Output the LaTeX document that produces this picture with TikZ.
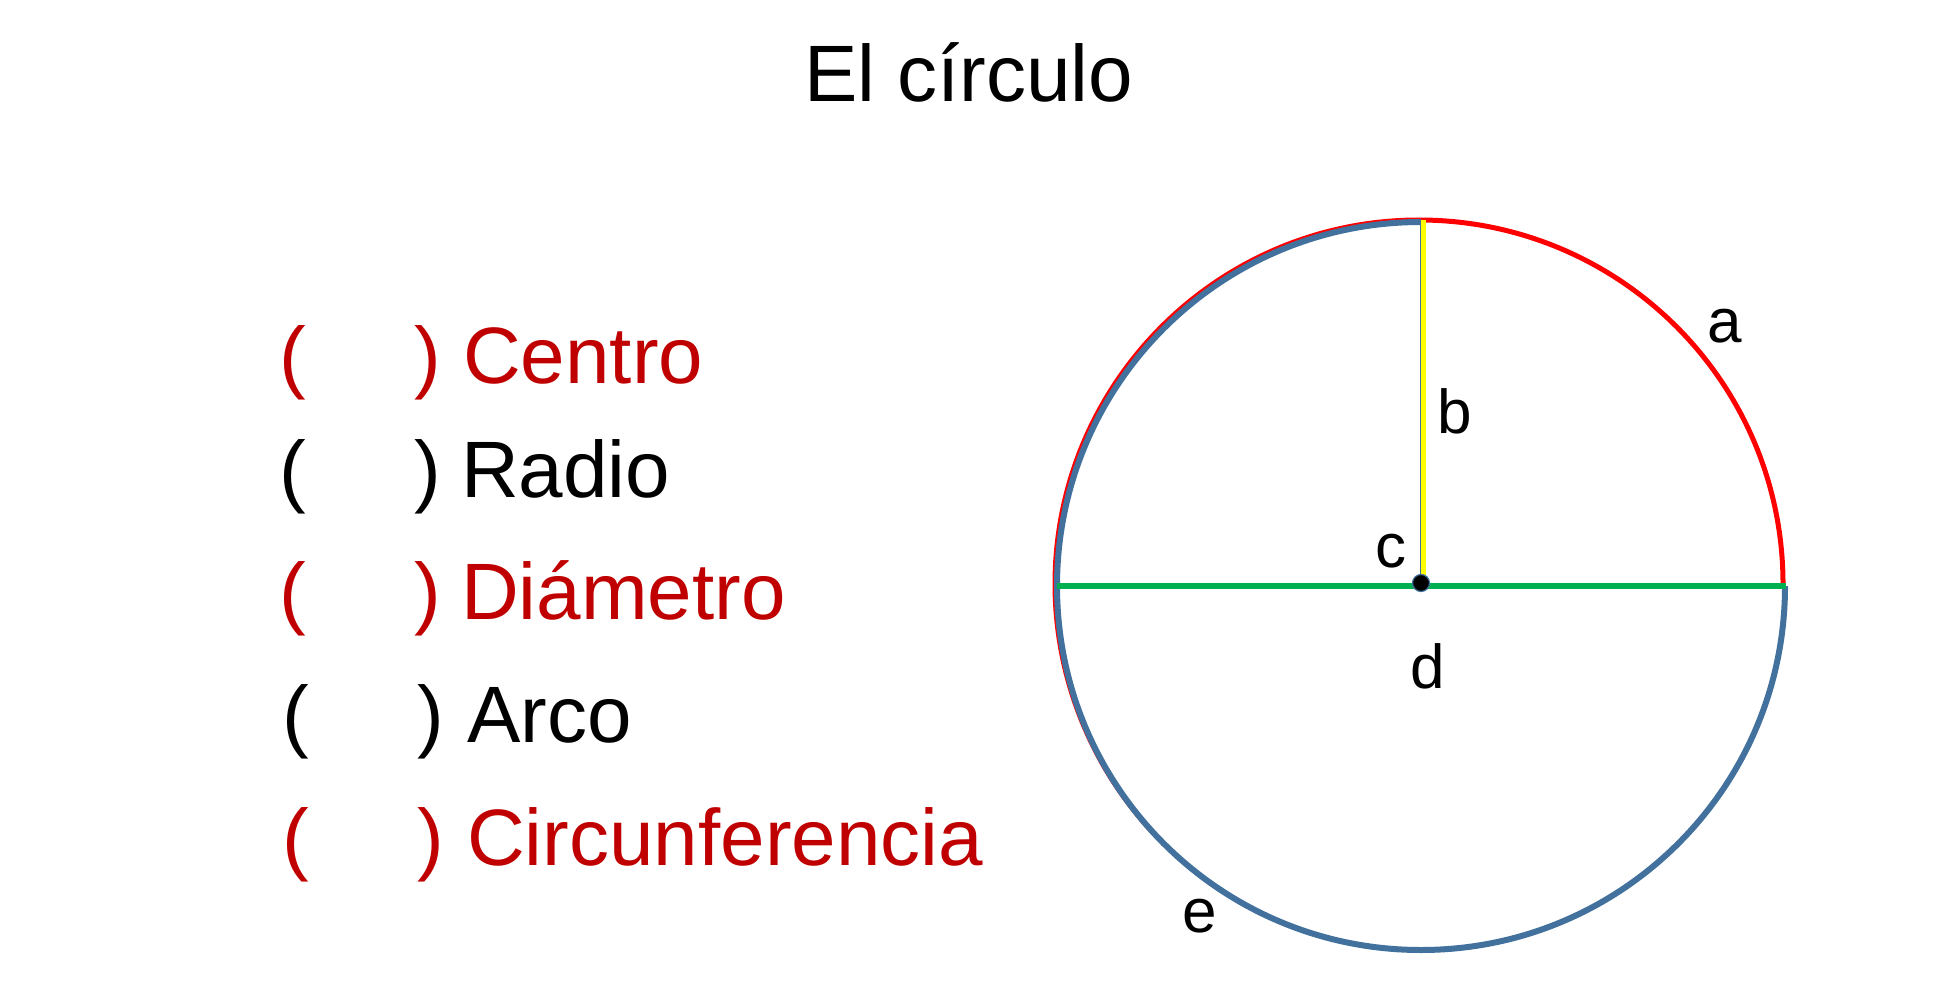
\documentclass[tikz,border=0pt]{standalone}
\usepackage{fontspec}
\setmainfont{Liberation Sans}
\definecolor{dkred}{HTML}{C00000}
\definecolor{cblue}{HTML}{41719C}
\definecolor{cgreen}{HTML}{00B050}
\definecolor{cyellow}{HTML}{FFFF00}
\definecolor{cred}{HTML}{FF0000}
\tikzset{
  bigtxt/.style={anchor=base west, inner sep=0pt, font=\fontsize{80}{96}\selectfont},
  lbl/.style={anchor=base, inner sep=0pt, font=\fontsize{62}{74}\selectfont},
  redarc/.style={draw=cred, line width=5pt},
  bluearc/.style={draw=cblue, line width=6pt},
  diam/.style={draw=cgreen, line width=5.5pt},
  radline/.style={draw=cyellow, line width=5.5pt},
  radedge/.style={draw=cblue, line width=1pt},
}
\begin{document}
\begin{tikzpicture}[x=1pt,y=-1pt]
\useasboundingbox (0,0) rectangle (1937,984);
\fill[white] (0,0) rectangle (1937,984);
% title
\node[bigtxt] (title) at (804,102) {El círculo};
% list
\node[bigtxt, text=dkred] (p1a) at (279,383) {(};
\node[bigtxt, text=dkred] (p1b) at (414,383) {)};
\node[bigtxt, text=dkred] (w1) at (463,383) {Centro};
\node[bigtxt] (p2a) at (279,497) {(};
\node[bigtxt] (p2b) at (414,497) {)};
\node[bigtxt] (w2) at (461,497) {Radio};
\node[bigtxt, text=dkred] (p3a) at (279,619) {(};
\node[bigtxt, text=dkred] (p3b) at (414,619) {)};
\node[bigtxt, text=dkred] (w3) at (461,619) {Diámetro};
\node[bigtxt] (p4a) at (282,742) {(};
\node[bigtxt] (p4b) at (417,742) {)};
\node[bigtxt] (w4) at (467,742) {Arco};
\node[bigtxt, text=dkred] (p5a) at (282,865) {(};
\node[bigtxt, text=dkred] (p5b) at (417,865) {)};
\node[bigtxt, text=dkred] (w5) at (467,865) {Circunferencia};
% circle
\coordinate (O) at (1421,586);
\coordinate (Ored) at (1419,584);
\draw[redarc] (Ored) ++(0:364pt) arc[start angle=0, end angle=225, radius=364pt];
\draw[bluearc] (O) ++(90:364pt) arc[start angle=90, end angle=360, radius=364pt];
\coordinate (L) at (1057,586);
\coordinate (R) at (1786,586);
\draw[diam] (L) -- (R);
\coordinate (topY) at (1423.5,220);
\coordinate (topB) at (1420.2,223);
\coordinate (botY) at (1423.5,582);
\coordinate (botB) at (1420.2,582);
\draw[radedge] (topB) -- (botB);
\draw[radline] (topY) -- (botY);
\node[circle, fill=black, draw=cblue, line width=1.2pt, minimum size=17pt, inner sep=0pt] (ctr) at (1421,583) {};
% labels
\node[lbl] (la) at (1725,342) {a};
\node[lbl] (lb) at (1455,433) {b};
\node[lbl] (lc) at (1391,567) {c};
\node[lbl] (ld) at (1428,688) {d};
\node[lbl] (le) at (1200,932) {e};
\end{tikzpicture}
\end{document}
